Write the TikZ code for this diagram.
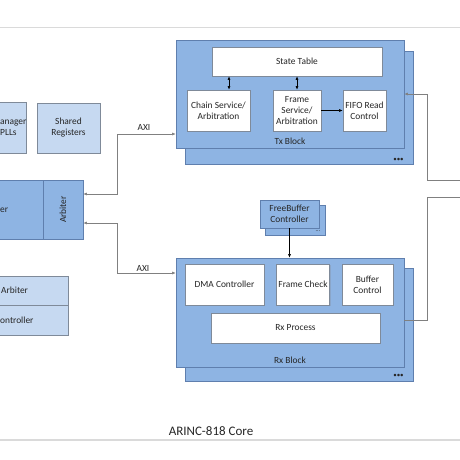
\documentclass[tikz,border=0pt]{standalone}
\usepackage{fontspec}
\setmainfont{Carlito}
\usetikzlibrary{arrows.meta,shadows}
\definecolor{midblue}{HTML}{8EB4E3}
\definecolor{lightblue}{HTML}{C6D9F1}
\definecolor{blueedge}{HTML}{5F7FAE}
\definecolor{grayedge}{HTML}{7F8A99}
\definecolor{txtc}{HTML}{262626}
\definecolor{wireg}{HTML}{808080}
\definecolor{rule}{HTML}{DADADA}
\tikzset{
  base/.style={rectangle, inner sep=2pt, align=center, text=txtc, font=\fontsize{9.4}{11}\selectfont},
  blueblk/.style={base, fill=midblue, draw=blueedge, line width=0.6pt,
     drop shadow={opacity=0.25, shadow xshift=1pt, shadow yshift=-1pt}},
  lightblk/.style={base, fill=lightblue, draw=grayedge, line width=0.6pt},
  whiteblk/.style={base, fill=white, draw=grayedge, line width=0.6pt,
     drop shadow={opacity=0.25, shadow xshift=1pt, shadow yshift=-1pt}},
  lbl/.style={text=txtc, font=\fontsize{9.4}{11}\selectfont, inner sep=0pt},
  dotsl/.style={text=txtc, font=\fontsize{7}{7}\selectfont, inner sep=0pt},
  wire/.style={draw=wireg, line width=0.6pt},
  tip/.style={-{Latex[length=3.6pt,width=3pt]}},
  tips/.style={{Latex[length=3.6pt,width=3pt]}-{Latex[length=3.6pt,width=3pt]}},
}
\begin{document}
\begin{tikzpicture}[x=1pt,y=-1pt]
\useasboundingbox (0,0) rectangle (460,460);
\fill[white] (0,0) rectangle (460,460);
% rules
\draw[rule, line width=0.8pt] (0,27) -- (460,27);
\draw[rule, line width=1.6pt] (0,440) -- (460,440);

% left side
\node[lightblk, minimum width=46pt, minimum height=51pt] (mgr) at (3,127.5) {};
\node[lbl, anchor=west, align=left] (mgrt) at (0,127.5) {anager\\PLLs};
\node[lightblk, minimum width=63pt, minimum height=50pt] (shared) at (68.5,128) {Shared\\Registers};

\node[blueblk, minimum width=63pt, minimum height=59pt] (ctl) at (11.5,209.5) {};
\node[lbl, anchor=west] (ctlt) at (0,210) {er};
\node[blueblk, minimum width=40pt, minimum height=59pt] (arb) at (63,209.5) {};
\node[lbl, rotate=90] (arbt) at (63,209.5) {Arbiter};

\node[lightblk, minimum width=88pt, minimum height=29pt] (marb) at (24,290.5) {};
\node[lightblk, minimum width=88pt, minimum height=30pt] (mctl) at (24,320) {};
\node[lbl, anchor=west] (marbt) at (1,290.5) {Arbiter};
\node[lbl, anchor=west] (mctlt) at (0,320) {ontroller};

% Tx block
\node[blueblk, minimum width=228pt, minimum height=113pt] (txback) at (299,107.5) {};
\node[blueblk, minimum width=228pt, minimum height=108pt] (txfront) at (290,94) {};
\node[whiteblk, minimum width=170pt, minimum height=29pt] (state) at (297,61.5) {State Table};
\node[whiteblk, minimum width=63pt, minimum height=41pt] (chain) at (218.5,110.5) {Chain Service/\\Arbitration};
\node[whiteblk, minimum width=48pt, minimum height=41pt] (frame) at (297,110.5) {Frame\\Service/\\Arbitration};
\node[whiteblk, minimum width=43pt, minimum height=41pt] (fifo) at (364.5,110.5) {FIFO Read\\Control};
\node[lbl] (txl) at (290,141) {Tx Block};
\node[dotsl] (txd) at (398.5,160) {•••};

% FreeBuffer
\node[blueblk, minimum width=60pt, minimum height=30pt] (fbback) at (295,220) {};
\node[blueblk, minimum width=59pt, minimum height=28pt] (fbfront) at (289.5,214) {FreeBuffer\\Controller};
\node[dotsl, font=\fontsize{6}{6}\selectfont] (fbd) at (318,231) {...};

% Rx block
\node[blueblk, minimum width=228pt, minimum height=113pt] (rxback) at (299,324.5) {};
\node[blueblk, minimum width=228pt, minimum height=109pt] (rxfront) at (290,312.5) {};
\node[whiteblk, minimum width=79pt, minimum height=41pt] (dma) at (224.5,284.5) {DMA Controller};
\node[whiteblk, minimum width=52pt, minimum height=41pt] (fcheck) at (303,284.5) {Frame Check};
\node[whiteblk, minimum width=51pt, minimum height=41pt] (bufctl) at (367.5,284.5) {Buffer\\Control};
\node[whiteblk, minimum width=169pt, minimum height=30pt] (rxproc) at (295.5,328) {Rx Process};
\node[lbl] (rxl) at (290,360) {Rx Block};
\node[dotsl] (rxd) at (398.5,376) {•••};

% title
\node[text=txtc, font=\fontsize{13}{15}\selectfont, inner sep=0pt] (title) at (211,431) {ARINC-818 Core};

% Tx inner connectors
\draw[wire, draw=black, tips] ([xshift=10.5pt]chain.north) -- ([xshift=10.5pt]chain.north |- state.south);
\draw[wire, draw=black, tips] (frame.north) -- (frame.north |- state.south);
\draw[wire, draw=black, tip] (frame.east) -- (fifo.west);
\draw[wire, draw=black, tip] (fbfront.south) -- (fbfront.south |- rxfront.north);

% AXI links
\coordinate (axa) at (117,134);
\coordinate (axb) at (117,273);
\draw[wire, tips] ([yshift=15.5pt]arb.east) -| (axa) -- ([yshift=-40pt]txfront.west);
\draw[wire, tips] ([yshift=-13.5pt]arb.east) -| (axb) -- ([yshift=39.5pt]rxfront.west);
\node[lbl] (axil1) at (144,127) {AXI};
\node[lbl] (axil2) at (143,268) {AXI};

% right side links
\coordinate (re1) at (462,180);
\coordinate (rc1) at (427,180);
\coordinate (re2) at (462,197);
\coordinate (rc2) at (427,197);
\draw[wire, tip] (re1) -- (rc1) |- (txfront.east);
\draw[wire] (re2) -- (rc2) |- ([yshift=-7.5pt]rxfront.east);
\end{tikzpicture}
\end{document}
